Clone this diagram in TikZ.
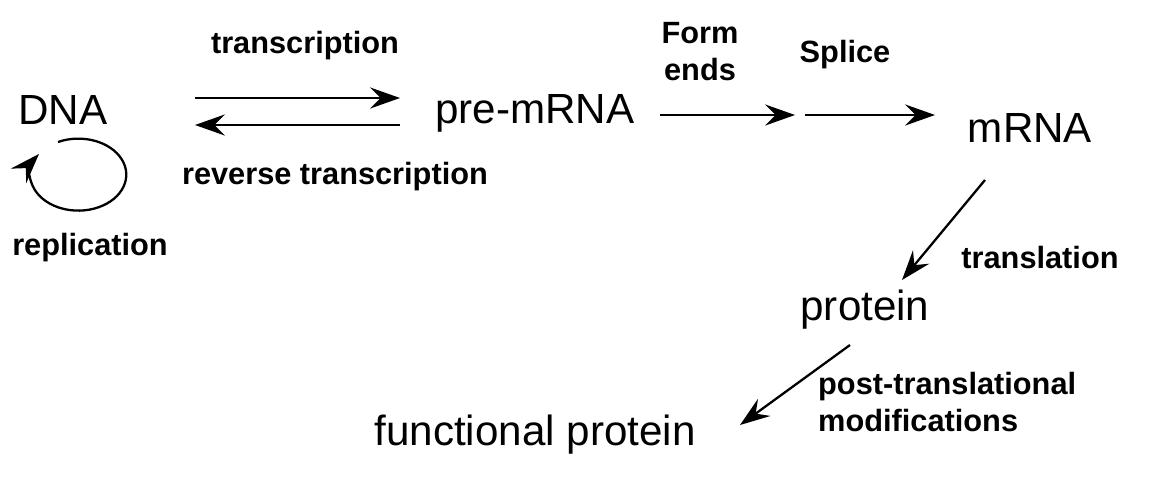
\documentclass[tikz,border=0pt]{standalone}
\usepackage{fontspec}
\setmainfont{Liberation Sans}
\usetikzlibrary{arrows.meta}
\begin{document}
\begin{tikzpicture}[x=0.02cm,y=-0.02cm,
    mol/.style={font=\fontsize{24}{28}\selectfont},
    lbl/.style={font=\bfseries\fontsize{17.5}{21}\selectfont, align=left},
    flow/.style={line width=1.3pt,-{Stealth[length=17pt,width=12pt,inset=6pt]}}]
\useasboundingbox (0,0) rectangle (1154,487);
\node[mol] (dna) at (63,110) {DNA};
\node[mol] (pre) at (535,113) {pre-mRNA};
\node[mol] (mrna) at (1030,128) {mRNA};
\node[mol] (prot) at (865,310) {protein};
\node[mol] (func) at (535,435) {functional protein};
\node[lbl] (tr) at (305,46) {transcription};
\node[lbl] (rtr) at (335,177) {reverse transcription};
\node[lbl] (rep) at (90,248) {replication};
\node[lbl, align=center] (fe) at (700,52) {Form\\ends};
\node[lbl] (spl) at (845,55) {Splice};
\node[lbl] (tl) at (1040,258) {translation};
\node[lbl, anchor=west] (ptm) at (812,402) {post-translational\\modifications};
\coordinate (a1) at (195,98); \coordinate (a2) at (400,98);
\coordinate (b1) at (400,125); \coordinate (b2) at (195,125);
\coordinate (c1) at (660,115); \coordinate (c2) at (795,115);
\coordinate (d1) at (805,115); \coordinate (d2) at (935,115);
\coordinate (e1) at (985,180); \coordinate (e2) at (902,280);
\coordinate (f1) at (850,345); \coordinate (f2) at (740,425);
\draw[flow] (a1) -- (a2);
\draw[flow] (b1) -- (b2);
\draw[flow] (c1) -- (c2);
\draw[flow] (d1) -- (d2);
\draw[flow] (e1) -- (e2);
\draw[flow] (f1) -- (f2);
\draw[flow] (58,142) arc[start angle=245, end angle=575, x radius=48, y radius=36];
\end{tikzpicture}
\end{document}
